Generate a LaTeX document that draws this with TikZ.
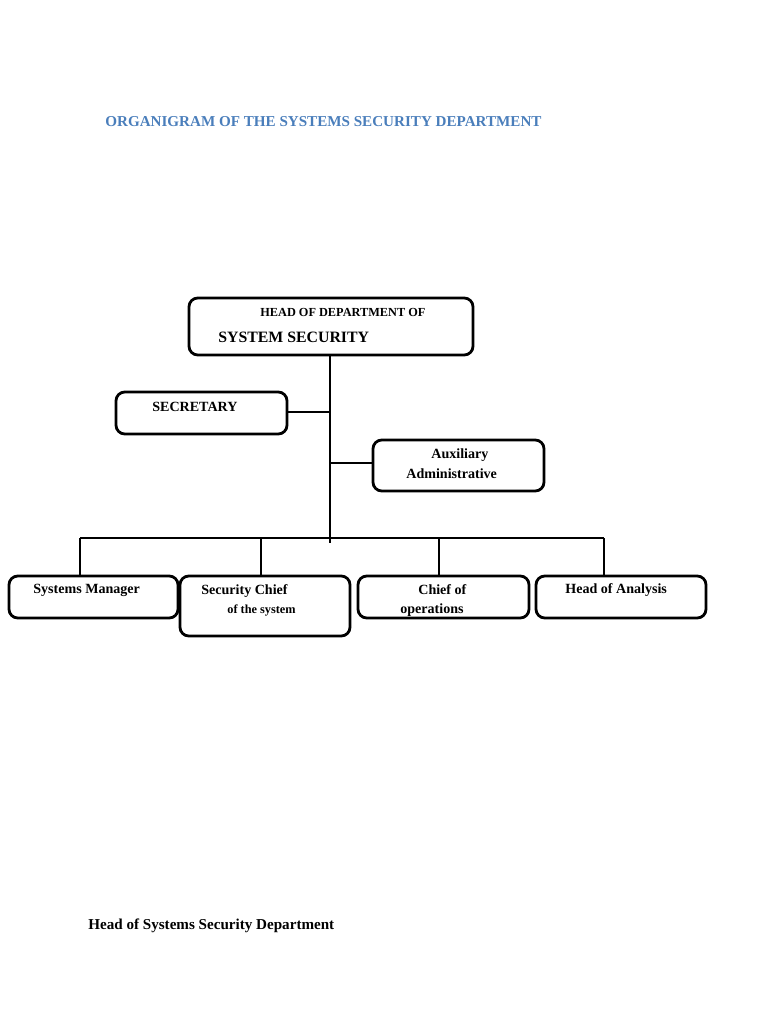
\documentclass[tikz,border=0pt]{standalone}
\usepackage{fontspec}
\setmainfont{Liberation Serif}
\usetikzlibrary{positioning}
\definecolor{titleblue}{HTML}{4A7EBB}
\tikzset{
  box/.style={draw, line width=1.6pt, rounded corners=5pt, inner sep=0pt},
  lbl/.style={font=\bfseries\fontsize{8}{9.5}\selectfont, anchor=west, inner sep=0pt},
  link/.style={line width=1.6pt}
}
\begin{document}
\begin{tikzpicture}[x=0.02cm,y=-0.02cm]
\useasboundingbox (0,0) rectangle (768,1024);

\node[lbl, text=titleblue, font=\bfseries\fontsize{8.6}{10}\selectfont] (title) at (105,122) {ORGANIGRAM OF THE SYSTEMS SECURITY DEPARTMENT};

% boxes
\draw[box] (189,298) rectangle (473,355);
\coordinate (head) at (330,355);
\node[lbl, font=\bfseries\fontsize{7}{8}\selectfont] (h1) at (260,312) {HEAD OF DEPARTMENT OF};
\node[lbl, font=\bfseries\fontsize{9}{10}\selectfont] (h2) at (218,337) {SYSTEM SECURITY};

\draw[box] (116,392) rectangle (287,434);
\node[lbl] (sec) at (152,407) {SECRETARY};
\draw[box] (373,440) rectangle (544,491);
\node[lbl] (aux1) at (431,455) {Auxiliary};
\node[lbl] (aux2) at (406,474) {Administrative};

\draw[box] (9,576) rectangle (178,618);
\node[lbl] (sm) at (33,590) {Systems Manager};
\draw[box] (180,576) rectangle (350,636);
\node[lbl] (sc1) at (201,591) {Security Chief};
\node[lbl, font=\bfseries\fontsize{7}{8}\selectfont] (sc2) at (227,610) {of the system};
\draw[box] (358,576) rectangle (529,618);
\node[lbl] (co1) at (418,590) {Chief of};
\node[lbl] (co2) at (400,610) {operations};
\draw[box] (536,576) rectangle (706,618);
\node[lbl] (ha) at (565,590) {Head of Analysis};

% connectors
\coordinate (bus) at (330,543);
\draw[link] (head) -- (bus);
\draw[link] (287,412) -- (330,412);
\draw[link] (330,463) -- (373,463);
\draw[link] (80,538) -- (604,538);
\foreach \x in {80,261,439,604}
  \draw[link] (\x,538) -- (\x,576);

\node[lbl, font=\bfseries\fontsize{8.6}{10}\selectfont] (foot) at (88,926) {Head of Systems Security Department};
\end{tikzpicture}
\end{document}
